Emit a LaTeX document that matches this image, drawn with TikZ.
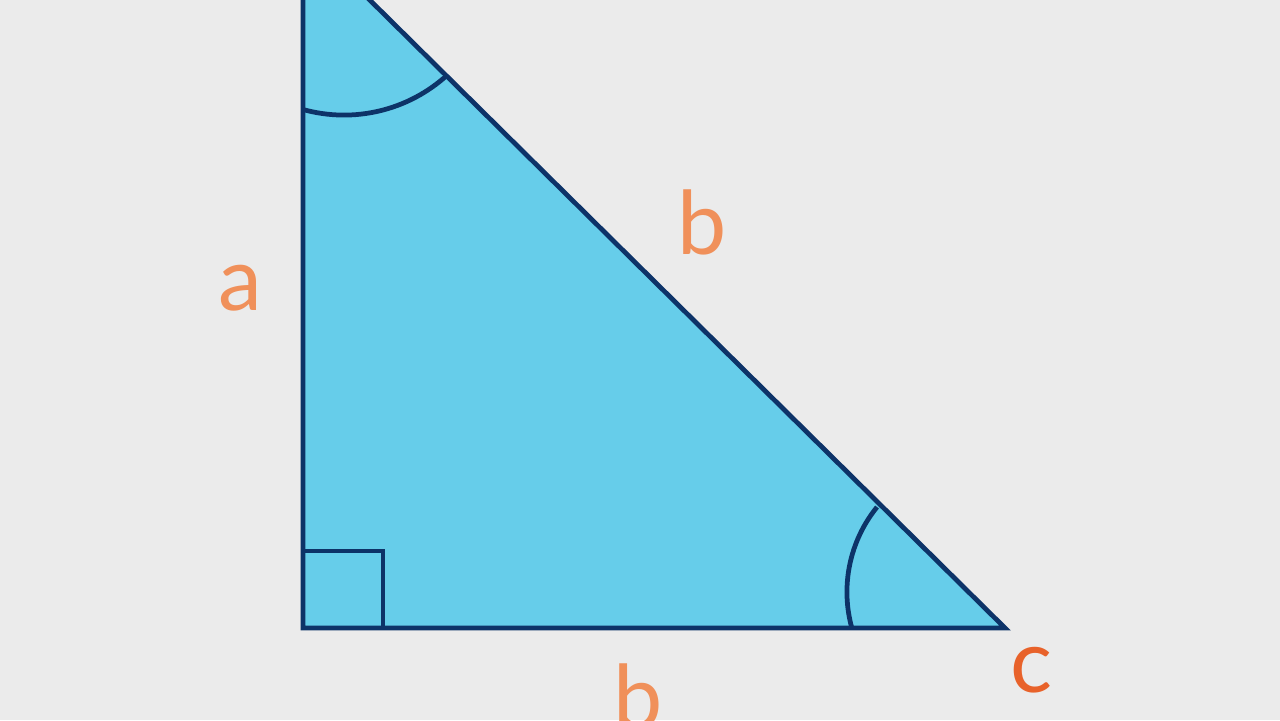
\documentclass[tikz,border=0pt]{standalone}
\usepackage{fontspec}
\setmainfont{Lato}
\usepackage{tikz}
\usetikzlibrary{positioning}

\definecolor{bgGray}{HTML}{EBEBEB}
\definecolor{triFill}{HTML}{66CDEA}
\definecolor{triLine}{HTML}{0D3368}
\definecolor{sideOrange}{HTML}{F0905A}
\definecolor{cornerOrange}{HTML}{E8622A}

\begin{document}
\begin{tikzpicture}[
  x=0.01cm, y=0.01cm,
  outline/.style={draw=triLine, line width=1.35pt, line join=miter},
  side/.style={text=sideOrange, font=\fontsize{25}{30}\selectfont, inner sep=0pt},
  corner/.style={text=cornerOrange, font=\fontsize{25}{30}\selectfont, inner sep=0pt}
]

% Background
\fill[bgGray] (0,0) rectangle (1280,720);
\useasboundingbox (0,0) rectangle (1280,720);

% Vertices
\coordinate (top) at (303,786);
\coordinate (rt) at (303,92);
\coordinate (rgt) at (1005,92);

% Triangle
\begin{scope}
  \clip (0,0) rectangle (1280,720);
  \fill[triFill] (top) -- (rt) -- (rgt) -- cycle;
  \draw[outline] (top) -- (rt) -- (rgt) -- cycle;
\end{scope}

% Right angle mark
\draw[outline] (rt) rectangle (383,169);

% Angle arcs
\draw[outline] ([shift={(254.5:1.53cm)}]344,758) arc[start angle=254.5, end angle=312.4, radius=1.53cm];
\draw[outline] ([shift={(195.5:1.35cm)}]982,128) arc[start angle=195.5, end angle=141, radius=1.35cm];

% Labels
\node[side] (la) at (240,432) {a};
\node[side] (lb) at (702,498) {b};
\node[side] (lbb) at (638,24) {b};
\node[corner] (lc) at (1031,50) {c};

\end{tikzpicture}
\end{document}
